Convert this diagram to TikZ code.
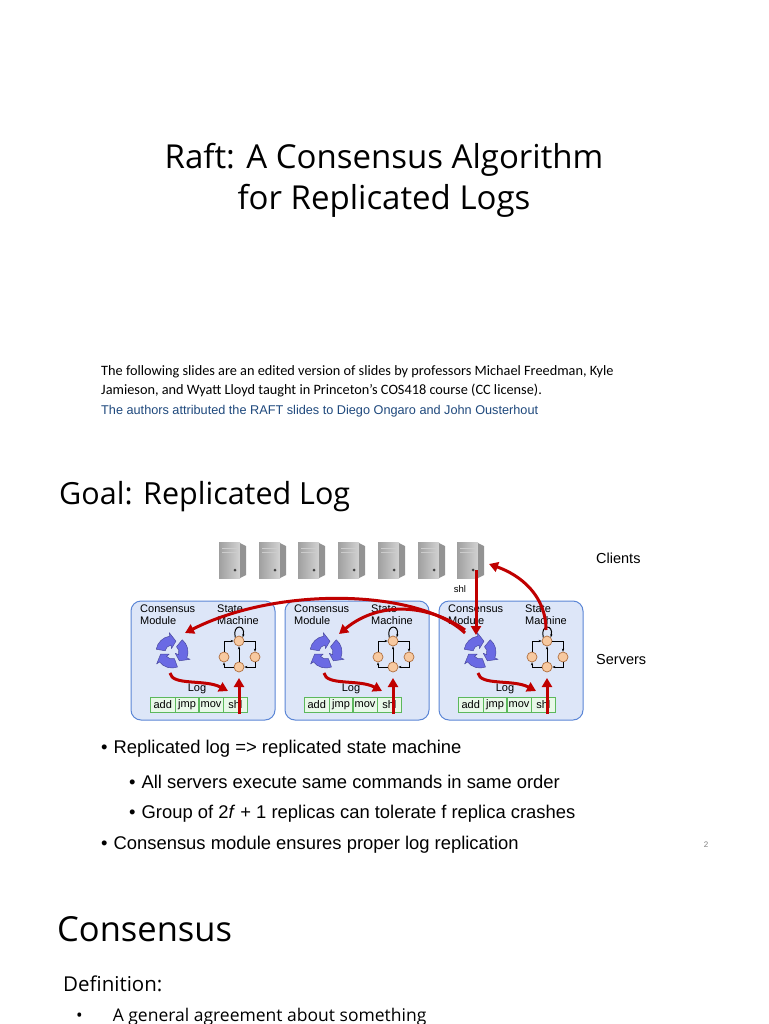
\documentclass[tikz,border=0pt]{standalone}
\usepackage{fontspec}
\setmainfont{Open Sans}
\newfontfamily\arialf{Liberation Sans}
\newfontfamily\calf{Carlito}
\usetikzlibrary{arrows.meta}
\definecolor{rd}{HTML}{C00000}
\definecolor{bx}{HTML}{DDE6F8}
\definecolor{bxb}{HTML}{5B86D6}
\definecolor{cyc}{HTML}{6A6AE4}
\definecolor{smn}{HTML}{F7C9A0}
\definecolor{smb}{HTML}{B07040}
\definecolor{lg}{HTML}{E8F8E8}
\definecolor{lgb}{HTML}{5CB85C}
\definecolor{lnk}{HTML}{1F497D}
\tikzset{
 redarr/.style={draw=rd,line width=3pt,-{Triangle[length=9pt,width=10pt]}},
 cycfill/.style={fill=cyc,draw=cyc!70!black,line width=0.5pt,line join=round},
 smnode/.style={circle,draw=smb,fill=smn,minimum size=10pt,inner sep=0pt,line width=0.7pt},
 smarr/.style={draw=black,line width=1pt,-{Stealth[length=3pt]}},
 logcell/.style={draw=lgb,fill=lg,minimum height=15pt,inner sep=0pt,anchor=west,font=\arialf\fontsize{11}{11}\selectfont},
 lbl/.style={font=\arialf\fontsize{11}{12}\selectfont,align=left,anchor=north west,inner sep=0pt},
}
\begin{document}
\begin{tikzpicture}[x=1pt,y=-1pt]
\useasboundingbox (0,0) rectangle (768,1024);
\fill[white] (0,0) rectangle (768,1024);
\node (t1) at (384,160) {\fontsize{33}{36}\selectfont Raft: A Consensus Algorithm};
\node (t2) at (384,201) {\fontsize{33}{36}\selectfont for Replicated Logs};
\node[anchor=west,inner sep=0pt] (p1) at (101,372) {\calf\fontsize{14.3}{16}\selectfont The following slides are an edited version of slides by professors Michael Freedman, Kyle};
\node[anchor=west,inner sep=0pt] (p2) at (101,390) {\calf\fontsize{14.3}{16}\selectfont Jamieson, and Wyatt Lloyd taught in Princeton’s COS418 course (CC license).};
\node[anchor=west,inner sep=0pt,text=lnk] (p3) at (101,411) {\arialf\fontsize{12.7}{14}\selectfont The authors attributed the RAFT slides to Diego Ongaro and John Ousterhout};
\node[anchor=west,inner sep=0pt] (g) at (59,497) {\fontsize{30.5}{34}\selectfont Goal: Replicated Log};
% clients
\foreach \i/\x in {1/232,2/272,3/311,4/351,5/391,6/431,7/470}{
 \shade[left color=gray!75,right color=gray!35] (\x-13,542) rectangle (\x+8,578);
 \fill[gray!85] (\x+8,543) -- (\x+14,546) -- (\x+14,575) -- (\x+8,578) -- cycle;
 \fill[black!75] (\x+3,570) circle (1.5);
 \draw[gray!40,line width=0.6pt] (\x-10,548) -- (\x+5,548) (\x-10,552) -- (\x+5,552);
 \coordinate (c\i) at (\x,560);
}
\node[anchor=west,inner sep=0pt] (cl) at (596,558) {\arialf\fontsize{14.5}{16}\selectfont Clients};
\node[anchor=west,inner sep=0pt] (sv) at (596,660) {\arialf\fontsize{14.5}{16}\selectfont Servers};
\node[inner sep=0pt] (shl) at (460,589) {\arialf\fontsize{9.5}{10}\selectfont shl};
% servers
\foreach \k/\o in {1/0,2/154,3/308}{
 \begin{scope}[xshift=\o]
 \draw[bxb,fill=bx,rounded corners=10pt,line width=1pt] (131,601) rectangle (275,720);
 \node[lbl] at (140,605) {Consensus\\Module};
 \node[lbl] at (217,605) {State\\Machine};
 % cycle icon
 \foreach \a in {-170,-50,70}{
  \pgfmathsetmacro{\b}{\a+72}
  \pgfmathsetmacro{\c}{\a+100}
  \fill[cycfill] ([shift={(\a:16)}]172,652) arc (\a:\b:16) -- ([shift={(\b:19.5)}]172,652)
    -- ([shift={(\c:11.5)}]172,652) -- ([shift={(\b:3.5)}]172,652) -- ([shift={(\b:7)}]172,652)
    arc (\b:\a:7) -- cycle;
 }
 % state machine
 \node[smnode] (st\k) at (239,641) {};
 \node[smnode] (sl\k) at (224,657) {};
 \node[smnode] (sr\k) at (255,657) {};
 \node[smnode] (sb\k) at (239,667) {};
 \draw[smarr] (st\k.135) .. controls (232,624) and (246,624) .. (st\k.45);
 \draw[smarr] (sl\k.north) |- (st\k.west);
 \draw[smarr] (st\k.east) -| (sr\k.north);
 \draw[smarr] (sr\k.south) |- (sb\k.east);
 \draw[smarr] (sb\k.west) -| (sl\k.south);
 \draw[smarr] (sb\k.north) -- (st\k.south);
 \node[inner sep=0pt] (lg\k) at (197,689) {\arialf\fontsize{11}{11}\selectfont Log};
 \node[logcell,minimum width=25pt] (la\k) at (150,704.5) {add};
 \node[logcell,minimum width=23pt] (lj\k) at (la\k.east) {jmp};
 \node[logcell,minimum width=24pt] (lm\k) at (lj\k.east) {mov};
 \node[logcell,minimum width=24pt] (ls\k) at (lm\k.east) {shl};
 \draw[redarr] (170,673) .. controls (172,686) and (205,679) .. (228,691);
 \draw[redarr] (239,714) -- (239,678);
 \end{scope}
}
\draw[redarr] (476,570) -- (476,635);
\draw[redarr] (546,630) .. controls (546,595) and (520,575) .. (489,564);
\draw[redarr] (465,633) .. controls (420,590) and (280,585) .. (185,633);
\draw[redarr] (465,630) .. controls (430,605) and (380,600) .. (339,634);
% bullets
\tikzset{bt/.style={anchor=west,inner sep=0pt,font=\arialf\fontsize{18.4}{20}\selectfont}}
\node[bt] (b1) at (101,749) {•\hspace{6pt}Replicated log => replicated state machine};
\node[bt] (b2) at (129,782) {•\hspace{6pt}All servers execute same commands in same order};
\node[bt] (b3) at (129,814) {•\hspace{6pt}Group of 2\textit{f} + 1 replicas can tolerate f replica crashes};
\node[bt] (b4) at (101,845) {•\hspace{6pt}Consensus module ensures proper log replication};
\node[inner sep=0pt,text=gray] (pg) at (706,845) {\arialf\fontsize{8}{9}\selectfont 2};
\node[anchor=west,inner sep=0pt] (cs) at (57,929) {\fontsize{34.5}{38}\selectfont Consensus};
\node[anchor=west,inner sep=0pt] (df) at (63,984) {\fontsize{20.5}{22}\selectfont Definition:};
\node[anchor=west,inner sep=0pt] (d1) at (76,1017) {\fontsize{17.5}{20}\selectfont •\hspace{30pt}A general agreement about something};
\end{tikzpicture}
\end{document}
